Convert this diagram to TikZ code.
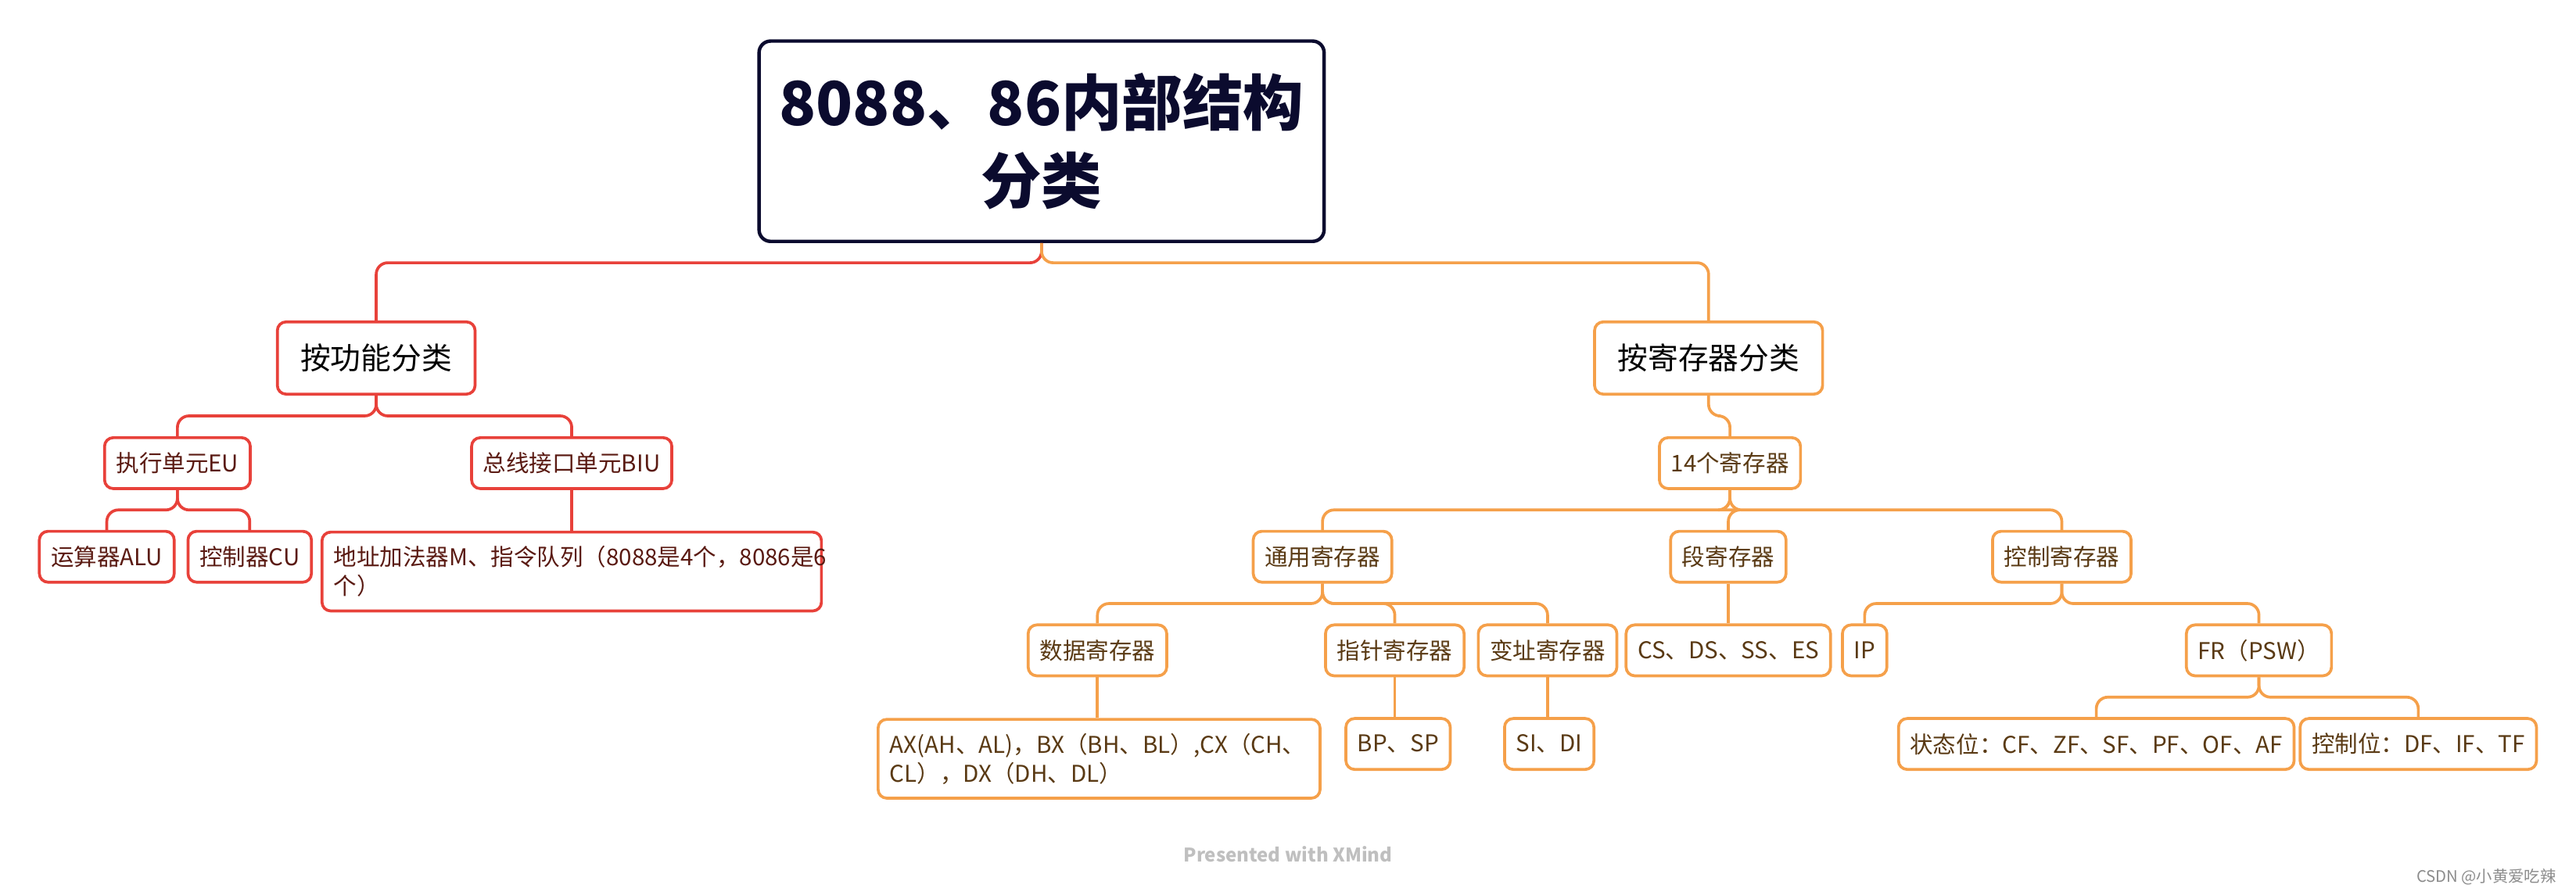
\documentclass[tikz,border=0pt]{standalone}
\usepackage{fontspec}
\setmainfont{Noto Sans CJK SC}
\usetikzlibrary{calc}
\definecolor{rd}{HTML}{E8413A}
\definecolor{or}{HTML}{F5A04A}
\definecolor{rtx}{HTML}{5A1A12}
\definecolor{otx}{HTML}{5A3A14}
\definecolor{navy}{HTML}{0B0B2E}
\tikzset{
  base/.style={draw,line width=1pt,rounded corners=3pt,fill=white,minimum height=0.62cm,inner xsep=4pt,font=\fontsize{8}{10}\selectfont},
  rnode/.style={base,draw=rd,text=rtx},
  onode/.style={base,draw=or,text=otx},
  big/.style={minimum height=0.88cm,inner xsep=8pt,font=\fontsize{10.5}{12}\selectfont,text=black},
  rl/.style={draw=rd,line width=1pt,rounded corners=4pt},
  ol/.style={draw=or,line width=1pt,rounded corners=4pt},
}
\newcommand\conn[3]{\path ($(#2.south)!.5!(#3.north)$) coordinate (tmpm);
  \draw[#1] (#2.south) -- (#2.south |- tmpm) -| (#3.north);}
\begin{document}
\begin{tikzpicture}[x=0.02cm,y=-0.02cm]
\useasboundingbox (0,0) rectangle (1568,543);
\node[draw=navy,line width=1.2pt,rounded corners=4pt,minimum width=6.88cm,minimum height=2.44cm,align=center,text=navy,font=\fontsize{21}{27}\selectfont\bfseries] (root) at (634,86) {8088、86内部结构\\分类};
\node[rnode,big] (f) at (229,218) {按功能分类};
\node[onode,big] (r) at (1040,218) {按寄存器分类};
\node[rnode] (eu) at (108,282) {执行单元EU};
\node[rnode] (biu) at (348,282) {总线接口单元BIU};
\node[rnode] (alu) at (65,339) {运算器ALU};
\node[rnode] (cu) at (152,339) {控制器CU};
\node[rnode,minimum width=6.02cm,minimum height=0.96cm,text width=5.8cm,align=left] (addr) at (348,348) {地址加法器M、指令队列（8088是4个，8086是6\\个）};
\node[onode] (r14) at (1053,282) {14个寄存器};
\node[onode] (gen) at (805,339) {通用寄存器};
\node[onode] (seg) at (1052,339) {段寄存器};
\node[onode] (ctl) at (1255,339) {控制寄存器};
\node[onode] (dat) at (668,396) {数据寄存器};
\node[onode] (ptr) at (849,396) {指针寄存器};
\node[onode] (idx) at (942,396) {变址寄存器};
\node[onode] (cs) at (1052,396) {CS、DS、SS、ES};
\node[onode] (ip) at (1135,396) {IP};
\node[onode] (fr) at (1375,396) {FR（PSW）};
\node[onode,minimum width=5.28cm,minimum height=0.96cm,text width=5.1cm,align=left] (ax) at (669,462) {AX(AH、AL)，BX（BH、BL）,CX（CH、\\CL），DX（DH、DL）};
\node[onode] (bp) at (851,453) {BP、SP};
\node[onode] (si) at (943,453) {SI、DI};
\node[onode] (st) at (1276,453) {状态位：CF、ZF、SF、PF、OF、AF};
\node[onode] (cb) at (1472,453) {控制位：DF、IF、TF};
\node[text=black!25,font=\fontsize{6.5}{8}\selectfont\bfseries] (xm) at (784,520) {Presented with XMind};
\node[text=black!45,font=\fontsize{5.5}{7}\selectfont,anchor=east] (csdn) at (1562,534) {CSDN @小黄爱吃辣};
\draw[rl] (root.south) -- (634,160) -| (f.north);
\draw[ol] (root.south) ++(0,0) -- (634,160) -| (r.north);
\conn{rl}{f}{eu}\conn{rl}{f}{biu}
\conn{rl}{eu}{alu}\conn{rl}{eu}{cu}
\conn{rl}{biu}{addr}
\conn{ol}{r}{r14}
\conn{ol}{r14}{gen}\conn{ol}{r14}{seg}\conn{ol}{r14}{ctl}
\conn{ol}{gen}{dat}\conn{ol}{gen}{ptr}\conn{ol}{gen}{idx}
\conn{ol}{seg}{cs}
\conn{ol}{ctl}{ip}\conn{ol}{ctl}{fr}
\draw[ol] (dat.south) -- (dat.south |- ax.north);
\draw[ol] (ptr.south) -- (ptr.south |- bp.north);
\draw[ol] (idx.south) -- (idx.south |- si.north);
\conn{ol}{fr}{st}\conn{ol}{fr}{cb}
\end{tikzpicture}
\end{document}
